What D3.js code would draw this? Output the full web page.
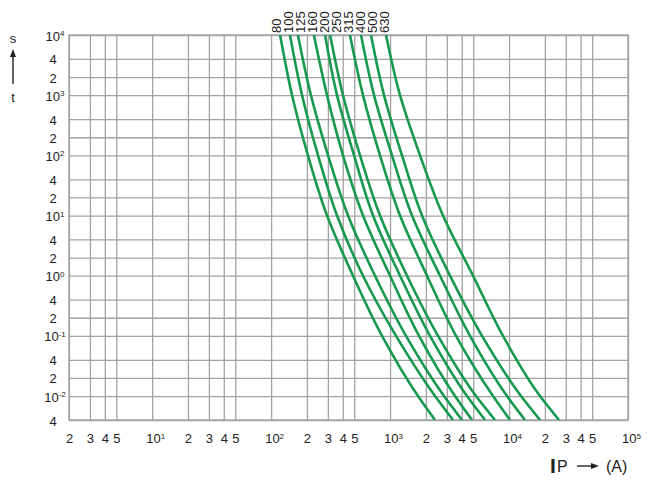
<!DOCTYPE html>
<html><head><meta charset="utf-8">
<script src="https://cdn.jsdelivr.net/npm/d3@7"></script>
<style>
body{margin:0;background:#fff}
text{font-family:"Liberation Sans",Arial,Helvetica,sans-serif;fill:#222}
</style>
</head><body>
<svg id="chart" width="650" height="486"></svg>
<script>
// ---- data ----
const ratings = ["80","100","125","160","200","250","315","400","500","630"];
const times = [10000, 1000, 100, 10, 1, 0.1, 0.01, 0.004];           // s
const i80  = [119, 150, 204, 295, 488, 856, 1717, 2387];              // A
const i100 = [144, 182, 248, 358, 592, 1122, 2387, 3380];
const i125 = [168, 216, 301, 443, 747, 1361, 2840, 4024];
const i160 = [229, 295, 402, 592, 999, 1751, 3514, 4882];
const i200 = [284, 358, 498, 719, 1212, 2166, 4433, 6281];
const i250 = [313, 402, 559, 823, 1388, 2529, 5277, 7622];
const i315 = [460, 592, 823, 1212, 2044, 3583, 7333, 10190];
const i400 = [570, 733, 1038, 1529, 2629, 4698, 9615, 13622];
const i500 = [691, 889, 1260, 1855, 3190, 5926, 12608, 18212];
const i630 = [924, 1212, 1785, 2786, 4979, 8899, 18212, 26307];
const currents = [i80, i100, i125, i160, i200, i250, i315, i400, i500, i630];

const xTicks = [2,3,4,5,10,20,30,40,50,100,200,300,400,500,1000,2000,3000,4000,5000,
                10000,20000,30000,40000,50000,100000];
const yTicks = [0.004,0.01,0.02,0.04,0.1,0.2,0.4,1,2,4,10,20,40,100,200,400,1000,2000,4000,10000];

// ---- layout ----
const svg = d3.select("#chart");
const L = 69, R = 628, T = 35, B = 420;
const gridColor = "#a3a3a3";
const green = "#17994f";

const x = d3.scaleLog().domain([2, 100000]).range([L, R]);
const y = d3.scaleLog().domain([0.004, 10000]).range([B, T]);

function isDecade(v){ const e = Math.log10(v); return Math.abs(e - Math.round(e)) < 1e-9; }
function labelInto(sel, v, supSize){
  if (isDecade(v)) {
    sel.append("tspan").text("10");
    sel.append("tspan").attr("font-size", supSize).attr("dy", "-0.55em").text(String(Math.round(Math.log10(v))));
  } else {
    const e = Math.floor(Math.log10(v) + 1e-9);
    sel.text(String(Math.round(v / Math.pow(10, e))));
  }
}

// grid via axes
const gx = svg.append("g").attr("transform", `translate(0,${B})`)
  .call(d3.axisBottom(x).tickValues(xTicks).tickSize(-(B - T)).tickFormat(() => ""));
gx.select(".domain").remove();
gx.selectAll(".tick line").attr("stroke", gridColor).attr("stroke-width", 1.3);

const gy = svg.append("g").attr("transform", `translate(${L},0)`)
  .call(d3.axisLeft(y).tickValues(yTicks).tickSize(-(R - L)).tickFormat(() => ""));
gy.select(".domain").remove();
gy.selectAll(".tick line").attr("stroke", gridColor).attr("stroke-width", 1.3);

// frame
svg.append("rect").attr("x", L).attr("y", T).attr("width", R - L).attr("height", B - T)
  .attr("fill", "none").attr("stroke", gridColor).attr("stroke-width", 1.3);

// x tick labels
gx.selectAll(".tick text").remove();
gx.selectAll(".tick").each(function(d){
  const t = d3.select(this).append("text")
    .attr("y", 23).attr("text-anchor", "middle").attr("font-size", 13).attr("fill", "#222");
  if (isDecade(d)) t.attr("x", 3);
  labelInto(t, d, 8);
});

// y tick labels
gy.selectAll(".tick text").remove();
gy.selectAll(".tick").each(function(d){
  const t = d3.select(this).append("text")
    .attr("x", isDecade(d) ? -14 : -16).attr("y", 5).attr("text-anchor", "middle")
    .attr("font-size", 13).attr("fill", "#222");
  labelInto(t, d, 8);
});

// curves
const clip = svg.append("clipPath").attr("id", "plotclip");
clip.append("rect").attr("x", L).attr("y", T).attr("width", R - L).attr("height", B - T);
const line = d3.line().x(d => x(d[0])).y(d => y(d[1])).curve(d3.curveMonotoneY);
svg.append("g").attr("clip-path", "url(#plotclip)")
  .selectAll("path").data(currents).join("path")
  .attr("d", c => line(c.map((v, i) => [v, times[i]])))
  .attr("fill", "none").attr("stroke", green).attr("stroke-width", 2.6);

// curve labels (rotated) above each curve's top end, spread apart
let lastX = -Infinity;
const labelX = currents.map(c => {
  let px = x(c[0]) - 4;
  if (px < lastX + 12) px = lastX + 12;
  lastX = px;
  return px;
});
svg.append("g").selectAll("text").data(ratings).join("text")
  .attr("transform", (d, i) => `translate(${labelX[i] + 5},${T - 2}) rotate(-90)`)
  .attr("font-size", 13).attr("text-anchor", "start").text(d => d);

// y axis title: s ↑ t
svg.append("text").attr("x", 13).attr("y", 43).attr("text-anchor", "middle").attr("font-size", 13).text("s");
svg.append("line").attr("x1", 13).attr("x2", 13).attr("y1", 84).attr("y2", 55)
  .attr("stroke", "#222").attr("stroke-width", 1.4);
svg.append("path").attr("d", "M13,49 L10,57 L16,57 Z").attr("fill", "#222");
svg.append("text").attr("x", 13).attr("y", 102).attr("text-anchor", "middle").attr("font-size", 13).text("t");

// x axis title: IP → (A)
svg.append("text").attr("x", 550).attr("y", 473).attr("font-size", 21).attr("font-weight", "bold").text("I");
svg.append("text").attr("x", 557).attr("y", 472).attr("font-size", 16).text("P");
svg.append("line").attr("x1", 577).attr("x2", 593).attr("y1", 466).attr("y2", 466)
  .attr("stroke", "#222").attr("stroke-width", 1.4);
svg.append("path").attr("d", "M599,466 L591,463 L591,469 Z").attr("fill", "#222");
svg.append("text").attr("x", 606).attr("y", 472).attr("font-size", 16).text("(A)");
</script>
</body></html>
